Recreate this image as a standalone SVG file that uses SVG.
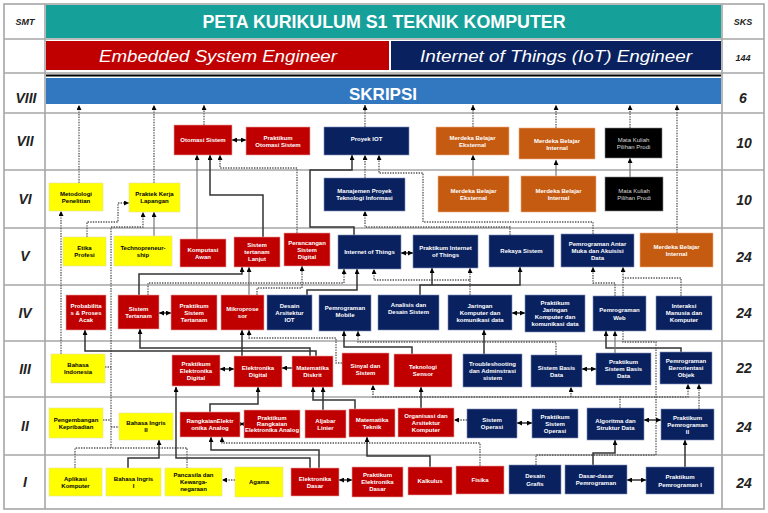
<svg xmlns="http://www.w3.org/2000/svg" width="768" height="513" viewBox="0 0 768 513">
<defs>
<marker id="ah" viewBox="0 0 10 10" refX="10" refY="5" markerWidth="5" markerHeight="5" markerUnits="userSpaceOnUse" orient="auto-start-reverse"><path d="M0,0 L10,5 L0,10 z" fill="#000"/></marker>
<style>
.grid{stroke:#a6a6a6;stroke-width:1.6;fill:none}
.r{fill:#c00000;stroke:#e8a0a0;stroke-width:0.6}
.n{fill:#0a2160;stroke:#8090b8;stroke-width:0.6}
.o{fill:#c55a11;stroke:#f0b080;stroke-width:0.6}
.y{fill:#ffff00;stroke:#e0e0a0;stroke-width:0.6}
.k{fill:#000;stroke:#888;stroke-width:0.6}
text{font-family:"Liberation Sans",Arial,sans-serif}
.t{font-size:6px;font-weight:bold;text-anchor:middle;fill:#fff}
.tb{font-size:6px;font-weight:bold;text-anchor:middle;fill:#000}
.tg{font-size:6px;text-anchor:middle;fill:#d8d8d8}
.lab{font-size:14px;font-weight:bold;font-style:italic;text-anchor:middle;fill:#222}
.hd{font-size:9px;font-weight:bold;font-style:italic;text-anchor:middle;fill:#222}
.s{stroke:#333;stroke-width:1.5;fill:none}
.d{stroke:#555;stroke-width:1.3;fill:none;stroke-dasharray:1.4 1.2}
.g{stroke:#777;stroke-width:1.2;fill:none}
.a{marker-end:url(#ah)}
.aa{marker-start:url(#ah);marker-end:url(#ah)}
</style>
</defs>
<rect x="0" y="0" width="768" height="513" fill="#fff"/>
<g id="grid">
<rect x="4" y="4" width="760" height="505" class="grid"/>
<path class="grid" d="M45,4 V509 M722,4 V509 M4,39 H764 M4,73 H764 M4,113 H764 M4,170 H764 M4,228 H764 M4,285 H764 M4,341 H764 M4,397 H764 M4,455 H764"/>
<path d="M46,75.5 H721" stroke="#000" stroke-width="2"/>
<text class="hd" x="25" y="25">SMT</text>
<text class="hd" x="743" y="25">SKS</text>
<text class="hd" x="743" y="61" font-size="8.5">144</text>
<text class="lab" x="26" y="103" font-size="13">VIII</text>
<text class="lab" x="743" y="103">6</text>
<text class="lab" x="25" y="146">VII</text>
<text class="lab" x="744" y="148">10</text>
<text class="lab" x="25" y="204">VI</text>
<text class="lab" x="744" y="205">10</text>
<text class="lab" x="25" y="261">V</text>
<text class="lab" x="744" y="262">24</text>
<text class="lab" x="25" y="318">IV</text>
<text class="lab" x="744" y="318">24</text>
<text class="lab" x="25" y="374">III</text>
<text class="lab" x="744" y="373">22</text>
<text class="lab" x="25" y="431">II</text>
<text class="lab" x="744" y="432">24</text>
<text class="lab" x="25" y="487">I</text>
<text class="lab" x="744" y="488">24</text>
</g>
<g id="title">
<rect x="46" y="5" width="675" height="33" fill="#16a09a"/>
<text x="384" y="28" font-size="18" font-weight="bold" fill="#fff" text-anchor="middle" textLength="363" lengthAdjust="spacingAndGlyphs">PETA KURIKULUM S1 TEKNIK KOMPUTER</text>
</g>
<g id="embedded">
<rect x="46" y="41" width="343" height="29" fill="#c00000"/>
<text x="218" y="62" font-size="17" font-style="italic" fill="#fff" text-anchor="middle" textLength="238" lengthAdjust="spacingAndGlyphs">Embedded System Engineer</text>
</g>
<g id="iot-engineer">
<rect x="391" y="41" width="330" height="29" fill="#0a2160"/>
<text x="556" y="62" font-size="17" font-style="italic" fill="#fff" text-anchor="middle" textLength="272" lengthAdjust="spacingAndGlyphs">Internet of Things (IoT) Engineer</text>
</g>
<g id="skripsi">
<rect x="46" y="78" width="675" height="26" fill="#3178c0"/>
<text x="383" y="100" font-size="17" font-weight="bold" fill="#fff" text-anchor="middle">SKRIPSI</text>
</g>
<g id="connectors">
<path class="d a" d="M79,183 V105"/>
<path class="d a" d="M154,183 V105"/>
<path class="d a" d="M204,125 V105"/>
<path class="d a" d="M365,127 V105"/>
<path class="d a" d="M473,127 V105"/>
<path class="d a" d="M556,128 V105"/>
<path class="d a" d="M630,128 V105"/>
<path class="d a" d="M677,233 V105"/>
<path class="s aa" d="M232,140 H246"/>
<path class="g a" d="M197,239 V155"/>
<path class="s a" d="M263,237 V195 H210 V155"/>
<path class="d a" d="M297,233 V168 H220 V155"/>
<path class="s a" d="M354,235 V227 H310 V170 H352 V155"/>
<path class="d a" d="M365,178 V155"/>
<path class="d a" d="M593,234 V222 H423 V173 H379 V155"/>
<path class="d a" d="M510,235 V227 H365 V211"/>
<path class="g a" d="M473,176 V155"/>
<path class="g a" d="M556,176 V160"/>
<path class="g a" d="M630,177 V158"/>
<path class="d a" d="M87,237 V222 H118 V203 H129"/>
<path class="g a" d="M154,236 V212"/>
<path class="d a" d="M111,448 V227 H143 V212"/>
<path class="d" d="M105,367 H111 M103,420 H111 M111,427 H119 M75,468 V448 H187 V468"/>
<path class="d a" d="M61,354 V211"/>
<path class="s aa" d="M401,253 H413"/>
<path class="s a" d="M139,295 V274 H242 V267"/>
<path class="g a" d="M249,295 V267"/>
<path class="d a" d="M148,295 V283 H344 V269"/>
<path class="d a" d="M257,295 V288 H302 V266"/>
<path class="s a" d="M307,295 V290 H357 V269"/>
<path class="d a" d="M470,295 V280 H374 V269"/>
<path class="d a" d="M470,280 V268"/>
<path class="s a" d="M420,295 V285 H520 V267"/>
<path class="s a" d="M432,285 V268"/>
<path class="d a" d="M615,296 V283 H593 V267"/>
<path class="d a" d="M623,296 V267"/>
<path class="d" d="M681,296 V278 H623"/>
<path class="s aa" d="M159,313 H171"/>
<path class="s aa" d="M512,313 H525"/>
<path class="s a" d="M310,356 V348 H140 V329"/>
<path class="s a" d="M316,356 V351 H85 V330"/>
<path class="s a" d="M242,356 V330"/>
<path class="d a" d="M342,363 H336 V338 H249 V330"/>
<path class="s a" d="M412,354 V347 H344 V331"/>
<path class="d a" d="M556,355 V342 H358 V331"/>
<path class="s a" d="M484,354 V330"/>
<path class="s a" d="M681,352 V348 H606 V331"/>
<path class="g a" d="M615,353 V331"/>
<path class="d" d="M536,465 V455 H656 V342 H623 V331"/>
<path class="s aa" d="M220,369 H234"/>
<path class="s a" d="M292,368 H282"/>
<path class="s aa" d="M582,369 H596"/>
<path class="s a" d="M310,468 V458 H176 V387"/>
<path class="s a" d="M210,412 V404 H258 V387"/>
<path class="s a" d="M355,409 V400 H313 V387"/>
<path class="s a" d="M323,410 V387"/>
<path class="s a" d="M421,408 V387"/>
<path class="d a" d="M620,408 V397 H373 V385"/>
<path class="d a" d="M571,397 V387"/>
<path class="d a" d="M620,397 H688 V384"/>
<path class="d a" d="M699,409 V384"/>
<path class="s a" d="M128,468 V458 H159 V440"/>
<path class="s aa" d="M240,424 H244"/>
<path class="s a" d="M319,468 V450 H211 V437"/>
<path class="d a" d="M480,466 V443 H222 V437"/>
<path class="s a" d="M430,467 V456 H367 V437"/>
<path class="d a" d="M467,420 H454"/>
<path class="s aa" d="M517,423 H532"/>
<path class="s aa" d="M644,420 H661"/>
<path class="s a" d="M593,465 V453 H615 V440"/>
<path class="s a" d="M685,467 V440"/>
<path class="s aa" d="M339,480 H352"/>
<path class="s aa" d="M627,480 H646"/>
<path class="d a" d="M235,480 H222"/>
</g>
<g id="otomasi"><rect class="r" x="174" y="125" width="58" height="30"/><text class="t" x="203" y="142">Otomasi Sistem</text></g>
<g id="prak-otomasi"><rect class="r" x="246" y="127" width="64" height="28"/><text class="t" x="278" y="139.6">Praktikum<tspan x="278" dy="7">Otomasi Sistem</tspan></text></g>
<g id="proyek-iot"><rect class="n" x="324" y="127" width="85" height="28"/><text class="t" x="366.5" y="141">Proyek IOT</text></g>
<g id="mbe7"><rect class="o" x="436" y="127" width="73" height="28"/><text class="t" x="472.5" y="139.6">Merdeka Belajar<tspan x="472.5" dy="7">Eksternal</tspan></text></g>
<g id="mbi7"><rect class="o" x="519" y="128" width="76" height="31"/><text class="t" x="557" y="143">Merdeka Belajar<tspan x="557" dy="7">Internal</tspan></text></g>
<g id="mkp7"><rect class="k" x="605" y="128" width="57" height="30"/><text class="tg" x="633.5" y="141.6">Mata Kuliah<tspan x="633.5" dy="7">Pilihan Prodi</tspan></text></g>
<g id="metodologi"><rect class="y" x="49" y="183" width="54" height="28"/><text class="tb" x="76" y="195.6">Metodologi<tspan x="76" dy="7">Penelitian</tspan></text></g>
<g id="pkl"><rect class="y" x="129" y="183" width="51" height="29"/><text class="tb" x="154.5" y="196.1">Praktek Kerja<tspan x="154.5" dy="7">Lapangan</tspan></text></g>
<g id="manpro"><rect class="n" x="324" y="178" width="81" height="33"/><text class="t" x="364.5" y="193.1">Manajemen Proyek<tspan x="364.5" dy="7">Teknologi Informasi</tspan></text></g>
<g id="mbe6"><rect class="o" x="438" y="176" width="71" height="36"/><text class="t" x="473.5" y="192.6">Merdeka Belajar<tspan x="473.5" dy="7">Eksternal</tspan></text></g>
<g id="mbi6"><rect class="o" x="521" y="176" width="75" height="36"/><text class="t" x="558.5" y="192.6">Merdeka Belajar<tspan x="558.5" dy="7">Internal</tspan></text></g>
<g id="mkp6"><rect class="k" x="605" y="177" width="58" height="34"/><text class="tg" x="634" y="192.6">Mata Kuliah<tspan x="634" dy="7">Pilihan Prodi</tspan></text></g>
<g id="etika"><rect class="y" x="63" y="237" width="43" height="29"/><text class="tb" x="84.5" y="250.1">Etika<tspan x="84.5" dy="7">Profesi</tspan></text></g>
<g id="techno"><rect class="y" x="114" y="236" width="58" height="30"/><text class="tb" x="143" y="249.6">Technopreneur-<tspan x="143" dy="7">ship</tspan></text></g>
<g id="komputasi"><rect class="r" x="180" y="239" width="46" height="28"/><text class="t" x="203" y="251.6">Komputasi<tspan x="203" dy="7">Awan</tspan></text></g>
<g id="sistert-lanjut"><rect class="r" x="234" y="237" width="46" height="30"/><text class="t" x="257" y="247.1">Sistem<tspan x="257" dy="7">tertanam</tspan><tspan x="257" dy="7">Lanjut</tspan></text></g>
<g id="perancangan"><rect class="r" x="284" y="233" width="46" height="33"/><text class="t" x="307" y="244.6">Perancangan<tspan x="307" dy="7">Sistem</tspan><tspan x="307" dy="7">Digital</tspan></text></g>
<g id="iot"><rect class="n" x="338" y="235" width="63" height="34"/><text class="t" x="369.5" y="254.1">Internet of Things</text></g>
<g id="prak-iot"><rect class="n" x="413" y="235" width="65" height="33"/><text class="t" x="445.5" y="250.1">Praktikum Internet<tspan x="445.5" dy="7">of Things</tspan></text></g>
<g id="rekaya"><rect class="n" x="489" y="235" width="65" height="32"/><text class="t" x="521.5" y="253.1">Rekaya Sistem</text></g>
<g id="antarmuka"><rect class="n" x="561" y="234" width="73" height="33"/><text class="t" x="597.5" y="245.6">Pemrograman Antar<tspan x="597.5" dy="7">Muka dan Akuisisi</tspan><tspan x="597.5" dy="7">Data</tspan></text></g>
<g id="mbi5"><rect class="o" x="640" y="233" width="73" height="34"/><text class="t" x="676.5" y="248.6">Merdeka Belajar<tspan x="676.5" dy="7">Internal</tspan></text></g>
<g id="probabilitas"><rect class="r" x="66" y="295" width="40" height="35"/><text class="t" x="86" y="307.6">Probabilita<tspan x="86" dy="7">s &amp; Proses</tspan><tspan x="86" dy="7">Acak</tspan></text></g>
<g id="sistert"><rect class="r" x="118" y="295" width="41" height="34"/><text class="t" x="138.5" y="310.6">Sistem<tspan x="138.5" dy="7">Tertanam</tspan></text></g>
<g id="prak-sistert"><rect class="r" x="171" y="295" width="46" height="35"/><text class="t" x="194" y="307.6">Praktikum<tspan x="194" dy="7">Sistem</tspan><tspan x="194" dy="7">Tertanam</tspan></text></g>
<g id="mikro"><rect class="r" x="221" y="295" width="43" height="35"/><text class="t" x="242.5" y="311.1">Mikroprose<tspan x="242.5" dy="7">sor</tspan></text></g>
<g id="desain-iot"><rect class="n" x="267" y="295" width="45" height="35"/><text class="t" x="289.5" y="307.6">Desain<tspan x="289.5" dy="7">Arsitektur</tspan><tspan x="289.5" dy="7">IOT</tspan></text></g>
<g id="mobile"><rect class="n" x="319" y="295" width="52" height="36"/><text class="t" x="345" y="309.5">Pemrograman<tspan x="345" dy="7">Mobile</tspan></text></g>
<g id="analisis"><rect class="n" x="378" y="295" width="61" height="35"/><text class="t" x="408.5" y="306.5">Analisis dan<tspan x="408.5" dy="7.5">Desain Sistem</tspan></text></g>
<g id="jaringan"><rect class="n" x="448" y="295" width="64" height="35"/><text class="t" x="480" y="307.6">Jaringan<tspan x="480" dy="7">Komputer dan</tspan><tspan x="480" dy="7">komunikasi data</tspan></text></g>
<g id="prak-jaringan"><rect class="n" x="525" y="295" width="60" height="37"/><text class="t" x="555" y="305.1">Praktikum<tspan x="555" dy="7">Jaringan</tspan><tspan x="555" dy="7">Komputer dan</tspan><tspan x="555" dy="7">komunikasi data</tspan></text></g>
<g id="web"><rect class="n" x="593" y="296" width="53" height="35"/><text class="t" x="619.5" y="312">Pemrograman<tspan x="619.5" dy="7.5">Web</tspan></text></g>
<g id="imk"><rect class="n" x="656" y="296" width="56" height="34"/><text class="t" x="684" y="308.1">Interaksi<tspan x="684" dy="7">Manusia dan</tspan><tspan x="684" dy="7">Komputer</tspan></text></g>
<g id="bindo"><rect class="y" x="51" y="354" width="54" height="29"/><text class="tb" x="78" y="367.1">Bahasa<tspan x="78" dy="7">Indonesia</tspan></text></g>
<g id="prak-eldig"><rect class="r" x="172" y="355" width="48" height="31"/><text class="t" x="196" y="365.6">Praktikum<tspan x="196" dy="7">Elektronika</tspan><tspan x="196" dy="7">Digital</tspan></text></g>
<g id="eldig"><rect class="r" x="234" y="356" width="48" height="31"/><text class="t" x="258" y="370.1">Elektronika<tspan x="258" dy="7">Digital</tspan></text></g>
<g id="matdis"><rect class="r" x="292" y="356" width="41" height="31"/><text class="t" x="312.5" y="370.1">Matematika<tspan x="312.5" dy="7">Diskrit</tspan></text></g>
<g id="sinyal"><rect class="r" x="342" y="353" width="47" height="32"/><text class="t" x="365.5" y="367.6">Sinyal dan<tspan x="365.5" dy="7">Sistem</tspan></text></g>
<g id="sensor"><rect class="r" x="394" y="354" width="58" height="33"/><text class="t" x="423" y="369.1">Teknologi<tspan x="423" dy="7">Sensor</tspan></text></g>
<g id="trouble"><rect class="n" x="463" y="354" width="59" height="33"/><text class="t" x="492.5" y="365.6">Troubleshooting<tspan x="492.5" dy="7">dan Adminstrasi</tspan><tspan x="492.5" dy="7">sistem</tspan></text></g>
<g id="sbd"><rect class="n" x="531" y="355" width="51" height="32"/><text class="t" x="556.5" y="369.6">Sistem Basis<tspan x="556.5" dy="7">Data</tspan></text></g>
<g id="prak-sbd"><rect class="n" x="596" y="353" width="55" height="32"/><text class="t" x="623.5" y="364.1">Praktikum<tspan x="623.5" dy="7">Sistem Basis</tspan><tspan x="623.5" dy="7">Data</tspan></text></g>
<g id="pbo"><rect class="n" x="660" y="352" width="52" height="32"/><text class="t" x="686" y="363.1">Pemrograman<tspan x="686" dy="7">Berorientasi</tspan><tspan x="686" dy="7">Objek</tspan></text></g>
<g id="kepribadian"><rect class="y" x="49" y="408" width="54" height="30"/><text class="tb" x="76" y="421.6">Pengembangan<tspan x="76" dy="7">Kepribadian</tspan></text></g>
<g id="bing2"><rect class="y" x="119" y="413" width="54" height="27"/><text class="tb" x="146" y="425.1">Bahasa Ingris<tspan x="146" dy="7">II</tspan></text></g>
<g id="rangkaian"><rect class="r" x="180" y="412" width="60" height="25"/><text class="t" x="210" y="422.8" font-size="5.1">RangkaianElektr<tspan x="210" dy="7">onika Analog</tspan></text></g>
<g id="prak-rangkaian"><rect class="r" x="244" y="410" width="56" height="28"/><text class="t" x="272" y="419.8" font-size="4.6">Praktikum<tspan x="272" dy="6">Rangkaian</tspan><tspan x="272" dy="6">Elektronika Analog</tspan></text></g>
<g id="aljabar"><rect class="r" x="305" y="410" width="41" height="28"/><text class="t" x="325.5" y="422.6">Aljabar<tspan x="325.5" dy="7">Linier</tspan></text></g>
<g id="mattek"><rect class="r" x="349" y="409" width="46" height="28"/><text class="t" x="372" y="421.6">Matematika<tspan x="372" dy="7">Teknik</tspan></text></g>
<g id="orkom"><rect class="r" x="398" y="408" width="56" height="29"/><text class="t" x="426" y="417.6">Organisasi dan<tspan x="426" dy="7">Arsitektur</tspan><tspan x="426" dy="7">Komputer</tspan></text></g>
<g id="sisop"><rect class="n" x="467" y="409" width="50" height="29"/><text class="t" x="492" y="422.1">Sistem<tspan x="492" dy="7">Operasi</tspan></text></g>
<g id="prak-sisop"><rect class="n" x="532" y="409" width="46" height="29"/><text class="t" x="555" y="418.6">Praktikum<tspan x="555" dy="7">Sistem</tspan><tspan x="555" dy="7">Operasi</tspan></text></g>
<g id="algo"><rect class="n" x="587" y="408" width="57" height="32"/><text class="t" x="615.5" y="422.6">Algoritma dan<tspan x="615.5" dy="7">Struktur Data</tspan></text></g>
<g id="prak-pemro2"><rect class="n" x="661" y="409" width="53" height="31"/><text class="t" x="687.5" y="419.6">Praktikum<tspan x="687.5" dy="7">Pemrograman</tspan><tspan x="687.5" dy="7">II</tspan></text></g>
<g id="aplikom"><rect class="y" x="49" y="468" width="53" height="28"/><text class="tb" x="75.5" y="480.6">Aplikasi<tspan x="75.5" dy="7">Komputer</tspan></text></g>
<g id="bing1"><rect class="y" x="106" y="468" width="55" height="28"/><text class="tb" x="133.5" y="480.6">Bahasa Ingris<tspan x="133.5" dy="7">I</tspan></text></g>
<g id="pancasila"><rect class="y" x="165" y="468" width="57" height="28"/><text class="tb" x="193.5" y="477.1">Pancasila dan<tspan x="193.5" dy="7">Kewarga-</tspan><tspan x="193.5" dy="7">negaraan</tspan></text></g>
<g id="agama"><rect class="y" x="235" y="467" width="48" height="30"/><text class="tb" x="259" y="484.1">Agama</text></g>
<g id="eldas"><rect class="r" x="291" y="468" width="48" height="28"/><text class="t" x="315" y="480.6">Elektronika<tspan x="315" dy="7">Dasar</tspan></text></g>
<g id="prak-eldas"><rect class="r" x="352" y="467" width="51" height="30"/><text class="t" x="377.5" y="477.1">Praktikum<tspan x="377.5" dy="7">Elektronika</tspan><tspan x="377.5" dy="7">Dasar</tspan></text></g>
<g id="kalkulus"><rect class="r" x="408" y="467" width="44" height="28"/><text class="t" x="430" y="483.1">Kalkulus</text></g>
<g id="fisika"><rect class="r" x="456" y="466" width="48" height="28"/><text class="t" x="480" y="482.1">Fisika</text></g>
<g id="desgraf"><rect class="n" x="509" y="465" width="52" height="29"/><text class="t" x="535" y="478.1">Desain<tspan x="535" dy="7.5">Grafis</tspan></text></g>
<g id="daspro"><rect class="n" x="565" y="465" width="62" height="29"/><text class="t" x="596" y="478.1">Dasar-dasar<tspan x="596" dy="7">Pemrograman</tspan></text></g>
<g id="prak-pemro1"><rect class="n" x="646" y="467" width="68" height="27"/><text class="t" x="680" y="479.1">Praktikum<tspan x="680" dy="7.5">Pemrograman I</tspan></text></g>
</svg>
